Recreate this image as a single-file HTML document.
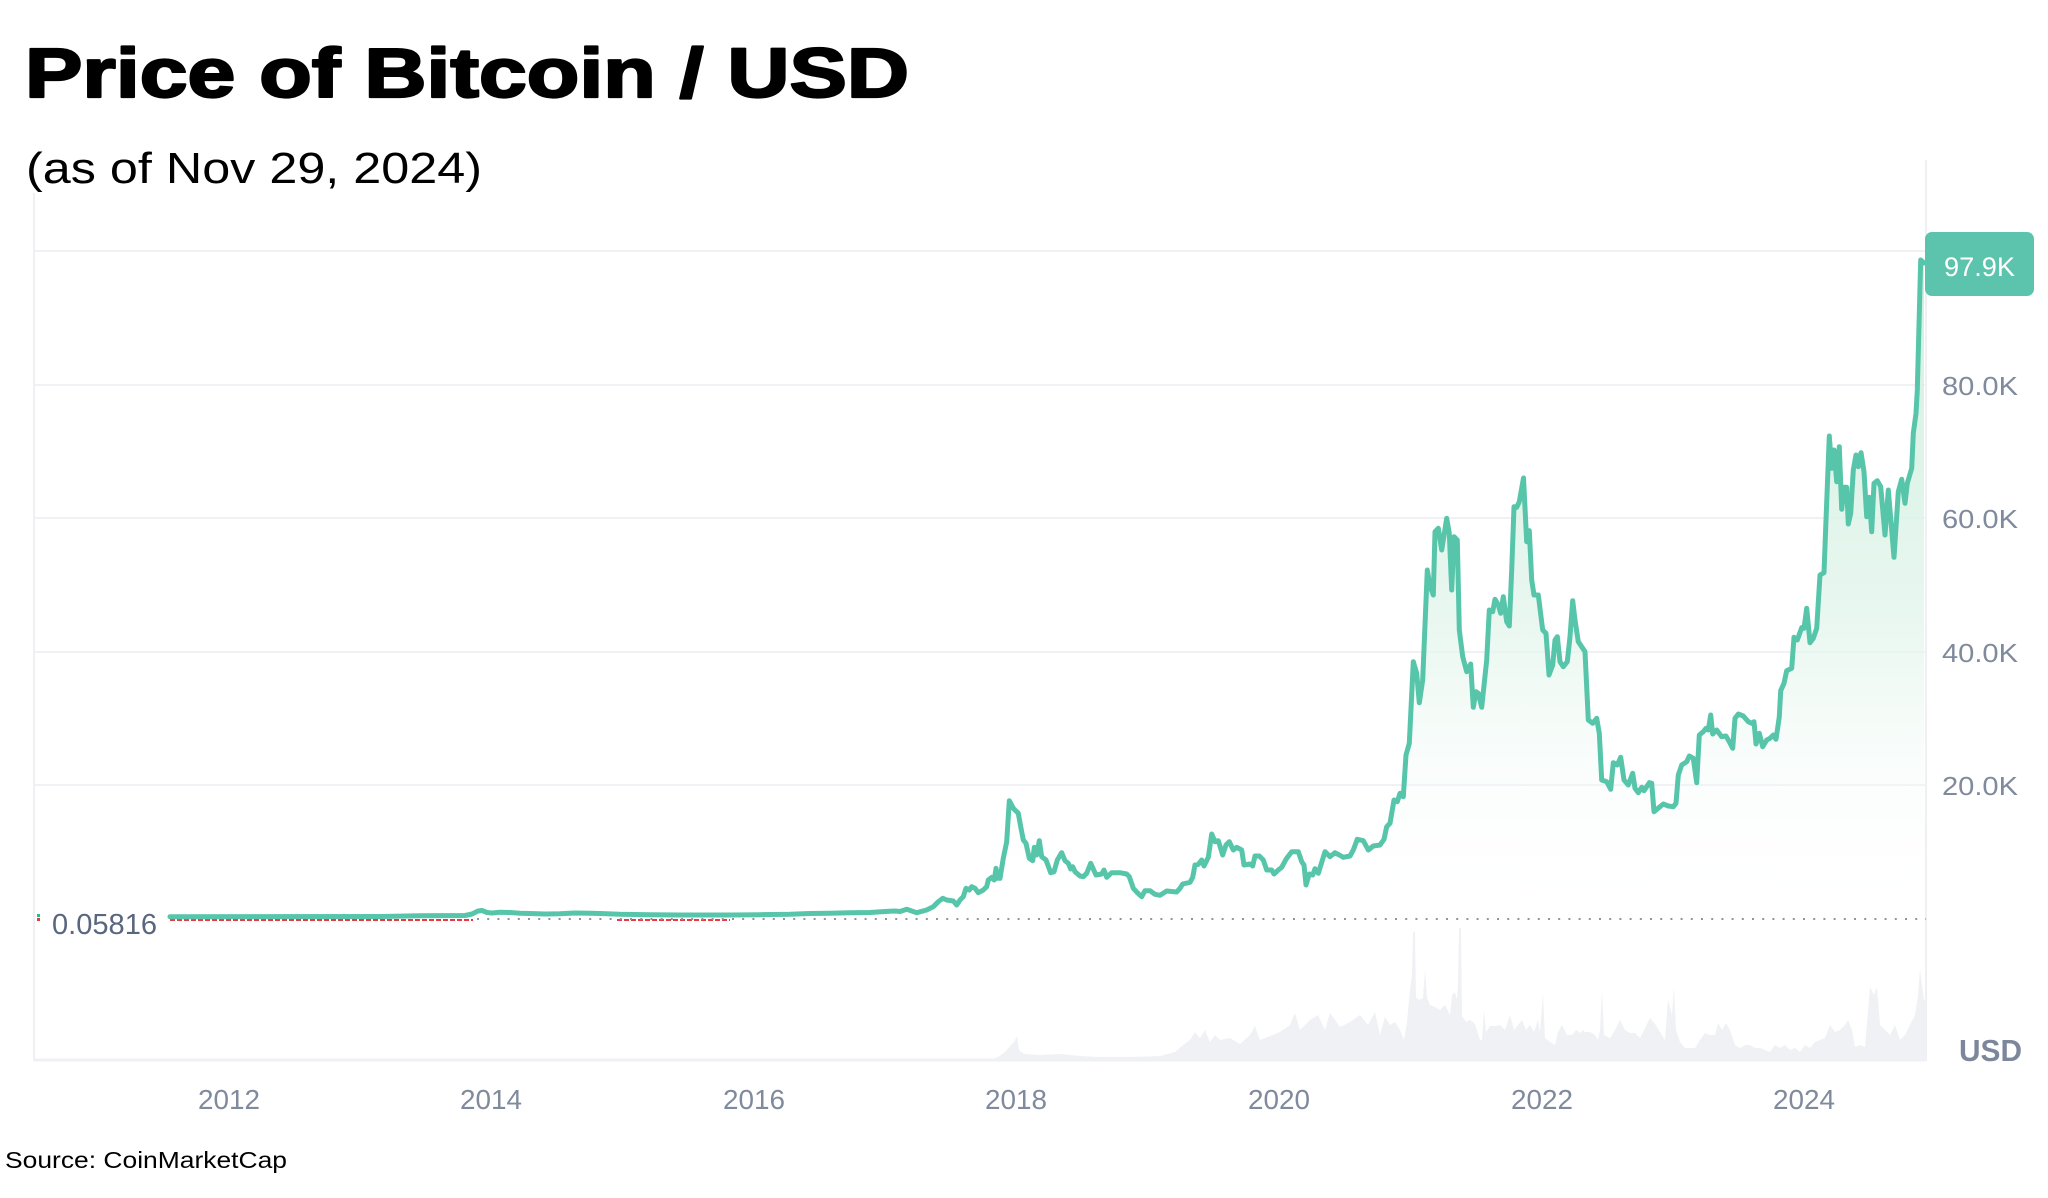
<!DOCTYPE html>
<html>
<head>
<meta charset="utf-8">
<style>
  html, body { margin:0; padding:0; background:#fff; }
  body { width:2048px; height:1198px; overflow:hidden; }
  svg { display:block; }
  .ax { font-family:"Liberation Sans", Arial, sans-serif; fill:#808a9d; }
</style>
</head>
<body>
<svg width="2048" height="1198" viewBox="0 0 2048 1198" xmlns="http://www.w3.org/2000/svg">
  <defs>
    <linearGradient id="fillg" x1="0" y1="250" x2="0" y2="919" gradientUnits="userSpaceOnUse">
      <stop offset="0" stop-color="#cdeedd" stop-opacity="0.95"/>
      <stop offset="0.55" stop-color="#e3f5ec" stop-opacity="0.8"/>
      <stop offset="1" stop-color="#ffffff" stop-opacity="0"/>
    </linearGradient>
  </defs>
  <rect width="2048" height="1198" fill="#fff"/>

  <!-- frame -->
  <line x1="34" y1="193" x2="34" y2="1061" stroke="#eef0f3" stroke-width="2"/>
  <line x1="1926" y1="160" x2="1926" y2="1061" stroke="#eef0f3" stroke-width="2"/>
  <line x1="34" y1="1060" x2="1926" y2="1060" stroke="#eef0f3" stroke-width="3"/>

  <!-- grid -->
  <g stroke="#eff1f4" stroke-width="2">
    <line x1="34" y1="251" x2="1926" y2="251"/>
    <line x1="34" y1="385" x2="1926" y2="385"/>
    <line x1="34" y1="518" x2="1926" y2="518"/>
    <line x1="34" y1="652" x2="1926" y2="652"/>
    <line x1="34" y1="785" x2="1926" y2="785"/>
  </g>

  <!-- volume -->
  <polygon fill="#f0f1f5" points="990,1060 998,1057 1005,1052 1010,1046 1014,1042 1017,1036 1019,1050 1024,1054 1040,1055 1060,1054 1080,1056 1100,1057 1130,1057 1160,1056 1175,1052 1182,1046 1190,1040 1195,1032 1200,1038 1205,1030 1210,1042 1215,1035 1220,1040 1230,1038 1240,1044 1250,1035 1255,1026 1260,1040 1270,1036 1280,1032 1290,1025 1295,1013 1300,1030 1310,1020 1318,1015 1325,1030 1330,1013 1340,1027 1350,1022 1360,1015 1368,1025 1375,1012 1380,1035 1385,1017 1390,1025 1395,1022 1400,1030 1404,1040 1407,1022 1410,990 1412,975 1413,932 1415,932 1416,998 1420,1000 1423,998 1425,970 1427,998 1430,1005 1435,1007 1440,1010 1445,1005 1450,1015 1452,995 1455,992 1457,1000 1458,982 1459,928 1461,928 1462,1016 1466,1022 1470,1020 1475,1024 1480,1040 1482,1040 1484,1010 1486,1032 1490,1026 1496,1026 1500,1025 1505,1030 1510,1015 1514,1030 1518,1025 1522,1020 1526,1030 1530,1025 1534,1032 1538,1020 1540,1032 1543,994 1545,1038 1550,1042 1555,1045 1558,1032 1562,1025 1567,1035 1572,1035 1576,1030 1580,1033 1583,1030 1585,1032 1590,1032 1595,1035 1598,1040 1600,1030 1602,990 1604,1035 1610,1038 1615,1030 1620,1020 1625,1030 1630,1033 1635,1033 1640,1038 1645,1028 1650,1018 1655,1024 1660,1032 1665,1040 1668,1000 1672,1015 1674,987 1676,1030 1680,1042 1685,1048 1690,1048 1695,1048 1700,1040 1705,1033 1710,1035 1715,1035 1718,1023 1722,1030 1726,1023 1730,1030 1735,1045 1740,1048 1745,1045 1750,1045 1755,1048 1760,1048 1765,1050 1770,1052 1775,1045 1780,1048 1785,1045 1790,1050 1795,1048 1800,1052 1805,1045 1810,1048 1815,1042 1820,1040 1825,1038 1830,1025 1835,1032 1840,1030 1845,1025 1848,1020 1852,1030 1855,1047 1860,1045 1865,1047 1870,987 1874,995 1877,987 1880,1025 1885,1030 1890,1035 1895,1025 1900,1040 1905,1035 1910,1025 1915,1015 1918,995 1920,969 1922,985 1924,1000 1926,1000 1926,1060"/>

  <!-- price fill -->
  <polygon fill="url(#fillg)" points="170,919 170,916.7 380,916.5 420,915.8 465,915.5 472,914 478,911 482,910.5 487,912.5 492,913 500,912.3 510,912.5 520,913.3 530,913.5 545,914 560,913.7 575,913 590,913.3 600,913.5 620,914.3 650,914.7 680,915 730,915 760,914.7 790,914.3 810,913.5 830,913.3 850,912.8 870,912.5 885,911.5 895,911 900,911.5 906.7,909.3 916.7,912.7 926.7,910 933.3,906.7 938.3,901.7 942.7,898.3 946.7,900 953.3,901 956.7,905 960,900 963.3,896.7 966,888.3 969.3,890 971.7,886.7 975,888.3 978.3,892.7 983.3,890 986.7,886.7 988.3,880 991.7,877.3 994.3,880 996,868.3 997.7,878.3 1000,878.3 1003.3,858.3 1006.7,841.7 1009.3,800.7 1013.3,808.3 1018.3,813.3 1020.7,826.7 1023.3,840 1026,843.3 1029.3,858.3 1032.7,860.7 1034.3,847.3 1036.7,855 1039.3,840.7 1041.7,856.7 1046,860 1050.7,872.7 1054,871.7 1057.3,860 1061.7,852.7 1065,860.7 1068.3,863.3 1070.7,869 1072.7,866.7 1075,871.7 1080,876 1083.3,876.7 1086.7,873.3 1090.7,863.3 1096,875 1101.7,874 1104,870 1106.7,877.3 1111.7,872.7 1120,872.7 1126.7,874 1129.3,876.7 1133.3,888.3 1137.3,892.7 1141.7,896.7 1145,890.7 1150,890.7 1155,894.3 1160,895.3 1166.7,891 1176.7,892 1180,888.3 1182.7,884 1190,882.3 1192.7,877.3 1195,865 1198.3,864.3 1201.7,860 1204,866 1208.3,857.3 1211.7,834 1215,841.7 1218.3,840.7 1222.7,855 1226,845 1229.3,841.7 1233.3,850 1236.7,847.3 1241.7,850 1244,865 1250,864 1252.7,866 1255,856 1259.3,856 1263.3,860 1266.7,870 1271.7,870 1274,874 1278.3,870 1281.7,867.3 1286,859.3 1291.7,851.7 1298.3,851.7 1301.7,861.7 1304,865 1306,885 1309.3,874 1312.7,875 1315,868.7 1318.3,873.3 1325,851.7 1330,856.7 1335,852.7 1339.3,855 1343.3,857.3 1350,856 1353.3,850 1357.3,839.3 1363.3,840.7 1368.3,850 1373.3,846 1380,845 1384,839.3 1386.7,826.7 1390,823.3 1394,800 1397.3,801.7 1400,793.3 1403.3,796.7 1406,755 1409.3,743.3 1413.3,661.7 1416.7,673.3 1419.3,702.7 1422.7,680 1427.3,570 1430,586 1433.3,595 1435,531.7 1438.3,528.3 1441.7,550 1446.7,518.3 1449.3,533.3 1451.7,590 1454,536.7 1457.3,540 1459.3,630 1462.7,656.7 1466.7,671.7 1470.7,664 1473.3,707.3 1476,691.7 1478.3,693.3 1481.7,707.3 1486.7,660 1489.3,610 1492.7,611.7 1495,599.3 1498.3,605 1500.7,613.3 1503.3,596.7 1506.7,621.7 1509.3,626 1511.7,570 1514,506.7 1516.7,507.3 1519.3,501.7 1523.5,478 1526.7,541.7 1529.3,530.7 1531.7,580 1534,595 1538.3,595 1542.7,630 1546,633.3 1549,675 1552.7,665 1555,640 1557.3,636.7 1560,661.7 1563.3,666.7 1567.3,661.7 1570,636.7 1572.7,600.7 1575,620 1578.3,641.7 1585,651.7 1588.3,720 1592.7,723.3 1596.7,718.3 1599.3,733.3 1601.7,780 1606.7,781.7 1610.7,789.3 1613.3,762.7 1617.3,765 1620.7,757.3 1624,780 1628.3,785 1632.7,773.3 1635,788.3 1638.3,792.7 1641.7,787.3 1644,790.7 1649.3,782.7 1651.7,783.3 1654,811.7 1660,806.7 1663.3,804 1668.3,806 1673.3,806.7 1676,803.3 1678.3,775 1681.7,765 1686.7,761.7 1689.3,756 1693.3,758.3 1696.7,782.7 1699.3,735 1703.3,731.7 1706,728.3 1708.3,730 1710.7,715 1712.7,734 1716.7,730 1721.7,736.7 1726,736 1729.3,741.7 1732.7,748.3 1735,718.3 1738.3,714 1743.3,716 1748.3,721.7 1751.7,723.3 1754,721.7 1756,744 1759.3,733.3 1762.7,746.7 1766.7,740 1770,738.3 1773.3,735 1776,739.3 1779.3,716.7 1780.7,690.7 1784,683.3 1786.7,670.7 1791.7,668.3 1794,637.3 1797.3,640 1801.7,627.7 1804,628.3 1806.7,608.3 1810,642.7 1813.3,638.3 1816.7,628.3 1820,575 1824,572.7 1826,520 1829.3,436 1831.7,468.3 1834,450 1836.7,481.7 1839.3,446.7 1841.7,509.3 1844,487.3 1846.7,487.3 1848.3,524 1850.7,513.3 1853.3,470 1856,455 1858.3,466.7 1861,452.7 1864,471.7 1866.7,516.7 1869.3,497.3 1871.7,531.7 1874,483.3 1877.3,480.7 1880.7,486.7 1885,535 1888.3,490 1894,557.3 1898.3,491.7 1901.7,479.3 1905,503.3 1907.3,483.3 1911.7,468.3 1913.3,433.3 1916,413.3 1917.3,390 1920.7,260 1924,263 1924,919"/>

  <!-- baseline dotted + red dashed -->
  <line x1="170" y1="920" x2="473" y2="920" stroke="#ea3943" stroke-width="2" stroke-dasharray="5 2"/>
  <line x1="617" y1="920" x2="730" y2="920" stroke="#ea3943" stroke-width="2" stroke-dasharray="5 2"/>
  <line x1="477" y1="919" x2="1926" y2="919" stroke="#8f959f" stroke-width="2" stroke-dasharray="2 8.2"/>
  <rect x="37" y="914" width="3" height="3" fill="#16c784"/>
  <rect x="37" y="918" width="3" height="3" fill="#ea3943"/>

  <!-- price line -->
  <polyline fill="none" stroke="#57c5a9" stroke-width="5" stroke-linejoin="round" stroke-linecap="round" points="170,916.7 380,916.5 420,915.8 465,915.5 472,914 478,911 482,910.5 487,912.5 492,913 500,912.3 510,912.5 520,913.3 530,913.5 545,914 560,913.7 575,913 590,913.3 600,913.5 620,914.3 650,914.7 680,915 730,915 760,914.7 790,914.3 810,913.5 830,913.3 850,912.8 870,912.5 885,911.5 895,911 900,911.5 906.7,909.3 916.7,912.7 926.7,910 933.3,906.7 938.3,901.7 942.7,898.3 946.7,900 953.3,901 956.7,905 960,900 963.3,896.7 966,888.3 969.3,890 971.7,886.7 975,888.3 978.3,892.7 983.3,890 986.7,886.7 988.3,880 991.7,877.3 994.3,880 996,868.3 997.7,878.3 1000,878.3 1003.3,858.3 1006.7,841.7 1009.3,800.7 1013.3,808.3 1018.3,813.3 1020.7,826.7 1023.3,840 1026,843.3 1029.3,858.3 1032.7,860.7 1034.3,847.3 1036.7,855 1039.3,840.7 1041.7,856.7 1046,860 1050.7,872.7 1054,871.7 1057.3,860 1061.7,852.7 1065,860.7 1068.3,863.3 1070.7,869 1072.7,866.7 1075,871.7 1080,876 1083.3,876.7 1086.7,873.3 1090.7,863.3 1096,875 1101.7,874 1104,870 1106.7,877.3 1111.7,872.7 1120,872.7 1126.7,874 1129.3,876.7 1133.3,888.3 1137.3,892.7 1141.7,896.7 1145,890.7 1150,890.7 1155,894.3 1160,895.3 1166.7,891 1176.7,892 1180,888.3 1182.7,884 1190,882.3 1192.7,877.3 1195,865 1198.3,864.3 1201.7,860 1204,866 1208.3,857.3 1211.7,834 1215,841.7 1218.3,840.7 1222.7,855 1226,845 1229.3,841.7 1233.3,850 1236.7,847.3 1241.7,850 1244,865 1250,864 1252.7,866 1255,856 1259.3,856 1263.3,860 1266.7,870 1271.7,870 1274,874 1278.3,870 1281.7,867.3 1286,859.3 1291.7,851.7 1298.3,851.7 1301.7,861.7 1304,865 1306,885 1309.3,874 1312.7,875 1315,868.7 1318.3,873.3 1325,851.7 1330,856.7 1335,852.7 1339.3,855 1343.3,857.3 1350,856 1353.3,850 1357.3,839.3 1363.3,840.7 1368.3,850 1373.3,846 1380,845 1384,839.3 1386.7,826.7 1390,823.3 1394,800 1397.3,801.7 1400,793.3 1403.3,796.7 1406,755 1409.3,743.3 1413.3,661.7 1416.7,673.3 1419.3,702.7 1422.7,680 1427.3,570 1430,586 1433.3,595 1435,531.7 1438.3,528.3 1441.7,550 1446.7,518.3 1449.3,533.3 1451.7,590 1454,536.7 1457.3,540 1459.3,630 1462.7,656.7 1466.7,671.7 1470.7,664 1473.3,707.3 1476,691.7 1478.3,693.3 1481.7,707.3 1486.7,660 1489.3,610 1492.7,611.7 1495,599.3 1498.3,605 1500.7,613.3 1503.3,596.7 1506.7,621.7 1509.3,626 1511.7,570 1514,506.7 1516.7,507.3 1519.3,501.7 1523.5,478 1526.7,541.7 1529.3,530.7 1531.7,580 1534,595 1538.3,595 1542.7,630 1546,633.3 1549,675 1552.7,665 1555,640 1557.3,636.7 1560,661.7 1563.3,666.7 1567.3,661.7 1570,636.7 1572.7,600.7 1575,620 1578.3,641.7 1585,651.7 1588.3,720 1592.7,723.3 1596.7,718.3 1599.3,733.3 1601.7,780 1606.7,781.7 1610.7,789.3 1613.3,762.7 1617.3,765 1620.7,757.3 1624,780 1628.3,785 1632.7,773.3 1635,788.3 1638.3,792.7 1641.7,787.3 1644,790.7 1649.3,782.7 1651.7,783.3 1654,811.7 1660,806.7 1663.3,804 1668.3,806 1673.3,806.7 1676,803.3 1678.3,775 1681.7,765 1686.7,761.7 1689.3,756 1693.3,758.3 1696.7,782.7 1699.3,735 1703.3,731.7 1706,728.3 1708.3,730 1710.7,715 1712.7,734 1716.7,730 1721.7,736.7 1726,736 1729.3,741.7 1732.7,748.3 1735,718.3 1738.3,714 1743.3,716 1748.3,721.7 1751.7,723.3 1754,721.7 1756,744 1759.3,733.3 1762.7,746.7 1766.7,740 1770,738.3 1773.3,735 1776,739.3 1779.3,716.7 1780.7,690.7 1784,683.3 1786.7,670.7 1791.7,668.3 1794,637.3 1797.3,640 1801.7,627.7 1804,628.3 1806.7,608.3 1810,642.7 1813.3,638.3 1816.7,628.3 1820,575 1824,572.7 1826,520 1829.3,436 1831.7,468.3 1834,450 1836.7,481.7 1839.3,446.7 1841.7,509.3 1844,487.3 1846.7,487.3 1848.3,524 1850.7,513.3 1853.3,470 1856,455 1858.3,466.7 1861,452.7 1864,471.7 1866.7,516.7 1869.3,497.3 1871.7,531.7 1874,483.3 1877.3,480.7 1880.7,486.7 1885,535 1888.3,490 1894,557.3 1898.3,491.7 1901.7,479.3 1905,503.3 1907.3,483.3 1911.7,468.3 1913.3,433.3 1916,413.3 1917.3,390 1920.7,260 1924,263"/>

  <!-- current price badge -->
  <rect x="1925" y="232" width="109" height="64" rx="7" ry="7" fill="#5cc4ac"/>
  <text x="1979.5" y="276" text-anchor="middle" font-family="Liberation Sans, Arial, sans-serif" font-size="27" fill="#ffffff" textLength="71" lengthAdjust="spacingAndGlyphs">97.9K</text>

  <!-- y labels -->
  <g class="ax" font-size="26">
    <text x="1942" y="395" textLength="76" lengthAdjust="spacingAndGlyphs">80.0K</text>
    <text x="1942" y="528" textLength="76" lengthAdjust="spacingAndGlyphs">60.0K</text>
    <text x="1942" y="662" textLength="76" lengthAdjust="spacingAndGlyphs">40.0K</text>
    <text x="1942" y="795" textLength="76" lengthAdjust="spacingAndGlyphs">20.0K</text>
  </g>
  <text x="52" y="934" font-family="Liberation Sans, Arial, sans-serif" font-size="29" fill="#58667e" textLength="105" lengthAdjust="spacingAndGlyphs">0.05816</text>
  <text x="1959" y="1061" font-family="Liberation Sans, Arial, sans-serif" font-size="31" font-weight="bold" fill="#7d879c" textLength="63" lengthAdjust="spacingAndGlyphs">USD</text>

  <!-- x labels -->
  <g class="ax" font-size="28" text-anchor="middle">
    <text x="229" y="1109" textLength="62" lengthAdjust="spacingAndGlyphs">2012</text>
    <text x="491" y="1109" textLength="62" lengthAdjust="spacingAndGlyphs">2014</text>
    <text x="754" y="1109" textLength="62" lengthAdjust="spacingAndGlyphs">2016</text>
    <text x="1016" y="1109" textLength="62" lengthAdjust="spacingAndGlyphs">2018</text>
    <text x="1279" y="1109" textLength="62" lengthAdjust="spacingAndGlyphs">2020</text>
    <text x="1542" y="1109" textLength="62" lengthAdjust="spacingAndGlyphs">2022</text>
    <text x="1804" y="1109" textLength="62" lengthAdjust="spacingAndGlyphs">2024</text>
  </g>

  <!-- titles -->
  <text x="25" y="97" font-family="Liberation Sans, Arial, sans-serif" font-size="70" font-weight="bold" fill="#000" stroke="#000" stroke-width="2.2" stroke-linejoin="round" textLength="884" lengthAdjust="spacingAndGlyphs">Price of Bitcoin / USD</text>
  <text x="26" y="183" font-family="Liberation Sans, Arial, sans-serif" font-size="44" fill="#000" textLength="456" lengthAdjust="spacingAndGlyphs">(as of Nov 29, 2024)</text>
  <text x="5" y="1168" font-family="Liberation Sans, Arial, sans-serif" font-size="23" fill="#000" textLength="282" lengthAdjust="spacingAndGlyphs">Source: CoinMarketCap</text>
</svg>
</body>
</html>
